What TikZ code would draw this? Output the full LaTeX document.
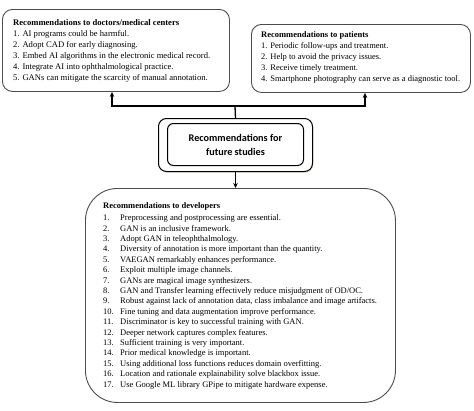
\documentclass[tikz,border=0pt]{standalone}
\usepackage{fontspec}
\setmainfont{Liberation Serif}
\newfontfamily\futurefont{Carlito}
\usetikzlibrary{arrows.meta,shadows}
\begin{document}
\begin{tikzpicture}[x=1pt,y=-1pt,
  recbox/.style={draw=black!70, line width=0.9pt, anchor=north west, inner sep=0pt},
  rectext/.style={anchor=north west, inner sep=0pt, align=left},
  conn/.style={line width=1.3pt, black},
  arr/.style={conn, -{Stealth[length=5pt,width=4.5pt]}}]
\useasboundingbox (0,0) rectangle (474,410);

% doctors box
\node[recbox, rounded corners=10pt, minimum width=227pt, minimum height=82pt] (doc) at (2,9) {};
\node[rectext, font=\fontsize{8.6}{11}\selectfont] (doctext) at (13,17.8) {%
\begin{tabular}{@{}l@{}}
\textbf{Recommendations to doctors/medical centers}\\
1. AI programs could be harmful.\\
2. Adopt CAD for early diagnosing.\\
3. Embed AI algorithms in the electronic medical record.\\
4. Integrate AI into ophthalmological practice.\\
5. GANs can mitigate the scarcity of manual annotation.
\end{tabular}};

% patients box
\node[recbox, rounded corners=10pt, minimum width=219pt, minimum height=68pt] (pat) at (251,24) {};
\node[rectext, font=\fontsize{8.5}{11}\selectfont] (pattext) at (261,29.8) {%
\begin{tabular}{@{}l@{}}
\textbf{Recommendations to patients}\\
1. Periodic follow-ups and treatment.\\
2. Help to avoid the privacy issues.\\
3. Receive timely treatment.\\
4. Smartphone photography can serve as a diagnostic tool.
\end{tabular}};

% future studies box
\node[recbox, draw=black, line width=1pt, rounded corners=8pt, minimum width=154pt, minimum height=53pt, fill=white,
      drop shadow={shadow xshift=0.8pt, shadow yshift=-1.2pt, fill=brown!50, opacity=0.6}] (future) at (158,118) {};
\node[recbox, draw=black, line width=1pt, rounded corners=6pt, minimum width=136pt, minimum height=42pt,
      align=center, font=\futurefont\bfseries\fontsize{10.2}{14}\selectfont] (futureinner) at (167,123)
      {Recommendations for\\future studies};

% developers box
\node[recbox, rounded corners=32pt, minimum width=310pt, minimum height=214pt] (dev) at (85,188) {};
\node[rectext, font=\fontsize{8.5}{10.4}\selectfont] (devtext) at (103,201.2) {%
\begin{tabular}{@{}p{17pt}@{}l@{}}
\multicolumn{2}{@{}l@{}}{\textbf{Recommendations to developers}}\\[1.6pt]
1. & Preprocessing and postprocessing are essential.\\
2. & GAN is an inclusive framework.\\
3. & Adopt GAN in teleophthalmology.\\
4. & Diversity of annotation is more important than the quantity.\\
5. & VAEGAN remarkably enhances performance.\\
6. & Exploit multiple image channels.\\
7. & GANs are magical image synthesizers.\\
8. & GAN and Transfer learning effectively reduce misjudgment of OD/OC.\\
9. & Robust against lack of annotation data, class imbalance and image artifacts.\\
10. & Fine tuning and data augmentation improve performance.\\
11. & Discriminator is key to successful training with GAN.\\
12. & Deeper network captures complex features.\\
13. & Sufficient training is very important.\\
14. & Prior medical knowledge is important.\\
15. & Using additional loss functions reduces domain overfitting.\\
16. & Location and rationale explainability solve blackbox issue.\\
17. & Use Google ML library GPipe to mitigate hardware expense.
\end{tabular}};

% connectors
\coordinate (j) at (235,106);
\coordinate (jl) at (112,106);
\coordinate (jr) at (365,106);
\draw[conn] (future.north) -- (j);
\draw[arr] (j) -- (jl) -- (jl |- doc.south);
\draw[arr] (j) -- (jr) -- (jr |- pat.south);
\draw[arr] (future.south) -- (future.south |- dev.north);
\end{tikzpicture}
\end{document}
